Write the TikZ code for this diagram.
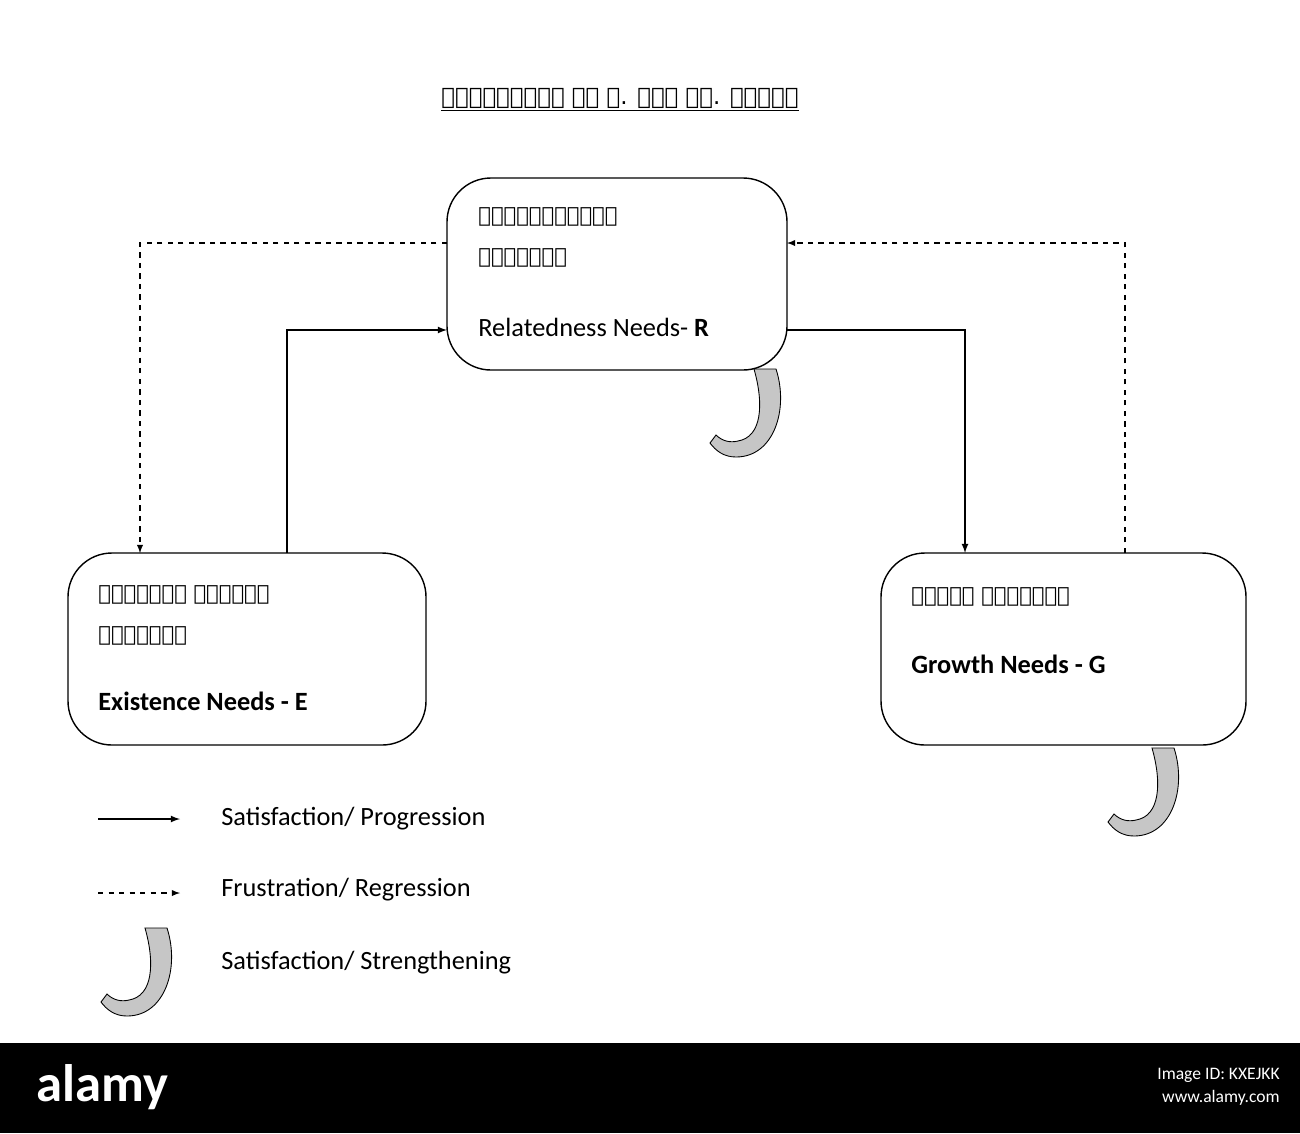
\documentclass[tikz,border=0pt]{standalone}
\usepackage{fontspec}
\setmainfont{Carlito}
\newfontfamily\sinfont{DejaVu Sans}
\begin{document}
\begin{tikzpicture}[x=0.02cm,y=-0.02cm,
 box/.style={draw,rounded corners=25pt,line width=0.8pt},
 lbl/.style={anchor=west,inner sep=0,font=\fontsize{15}{18}\selectfont},
 sl/.style={anchor=west,inner sep=0,font=\sinfont\fontsize{12}{15}\selectfont},
 solid arr/.style={-latex,line width=0.8pt},
 dash arr/.style={-latex,dashed,line width=0.6pt},
 curl/.pic={
  \fill[white,draw,line width=0.5pt] (-44,74) -- (-54,84) -- (-64,52) -- (-28,58) -- (-38,66) -- cycle;
  \filldraw[fill=gray!45,line width=0.5pt] (0,0) -- (22,0) .. controls (35,40) and (20,88) .. (-18,88) .. controls (-30,88) and (-38,82) .. (-44,74) -- (-38,66) .. controls (-32,72) and (-24,74) .. (-16,72) .. controls (8,68) and (10,35) .. (0,0) -- cycle;
 }]
\useasboundingbox (0,0) rectangle (1300,1133);
\fill[white] (0,0) rectangle (1300,1043);
\fill[black] (0,1043) rectangle (1300,1133);
\node[text=white,font=\bfseries\fontsize{30}{30}\selectfont,inner sep=0] (al) at (102,1087) {alamy};
\node[text=white,anchor=east,align=right,font=\fontsize{10}{13}\selectfont,inner sep=0] (aid) at (1280,1087) {Image ID: KXEJKK\\www.alamy.com};
\node[font=\sinfont\fontsize{13}{15}\selectfont,inner sep=1pt] (t) at (620,100) {\underline{ඇල්ඩර්ෆර් ගේ ඊ. ආර් ජී. න්‍යාය}};
\draw[box] (447,178) rectangle (787,370);
\draw[box] (68,553) rectangle (426,745);
\draw[box] (881,553) rectangle (1246,745);
\coordinate (Rl1) at (447,330); \coordinate (Rr1) at (787,330);
\coordinate (Rl2) at (447,243); \coordinate (Rr2) at (787,243);
\coordinate (Et) at (287,553); \coordinate (Ed) at (140,553);
\coordinate (Gt) at (965,553); \coordinate (Gd) at (1125,553);
\node[sl] (r1) at (478,217) {සම්බන්ධතාමය};
\node[sl,font=\sinfont\bfseries\fontsize{12}{15}\selectfont] (r2) at (478,258) {අවශ්‍යතා};
\node[lbl] (r3) at (478,327) {Relatedness Needs- \textbf{R}};
\node[sl] (e1) at (98,595) {පැවැත්ම පිළිබඳ};
\node[sl] (e2) at (98,636) {අවශ්‍යතා};
\node[lbl,font=\bfseries\fontsize{15}{18}\selectfont] (e3) at (98,701) {Existence Needs - E};
\node[sl] (g1) at (911,597) {වර්ධන අවශ්‍යතා};
\node[lbl,font=\bfseries\fontsize{15}{18}\selectfont] (g3) at (911,664) {Growth Needs - G};
\draw[solid arr] (Et) |- (Rl1);
\draw[solid arr] (Rr1) -| (Gt);
\draw[dash arr] (Rl2) -| (Ed);
\draw[dash arr] (Gd) |- (Rr2);
\pic at (754,369) {curl};
\pic at (1152,748) {curl};
\pic at (145,928) {curl};
\coordinate (a1) at (98,819); \coordinate (b1) at (180,819);
\coordinate (a2) at (98,893); \coordinate (b2) at (180,893);
\draw[solid arr] (a1) -- (b1);
\draw[dash arr] (a2) -- (b2);
\node[lbl] (l1) at (221,819) {Satisfaction/ Progression};
\node[lbl] (l2) at (221,890) {Frustration/ Regression};
\node[lbl] (l3) at (221,963) {Satisfaction/ Strengthening};
\end{tikzpicture}
\end{document}
